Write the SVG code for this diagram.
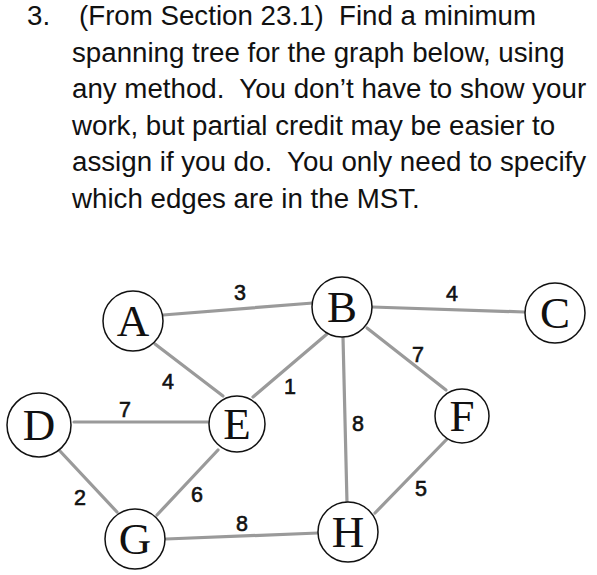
<svg xmlns="http://www.w3.org/2000/svg" width="597" height="575" viewBox="0 0 597 575">
<style>
.q{font-family:"Liberation Sans",Arial,sans-serif;font-size:27.7px;fill:#111;white-space:pre}
.e{stroke:#9a9a9a;stroke-width:3.2;fill:none;stroke-linecap:round}
.n circle{fill:#fff;stroke:#111;stroke-width:1.5}
.n text{font-family:"Liberation Serif","Times New Roman",serif;font-size:45px;fill:#111;text-anchor:middle}
.w{font-family:"Liberation Sans",Arial,sans-serif;font-size:21.5px;fill:#111;stroke:#111;stroke-width:0.6;text-anchor:middle}
</style>
<rect width="597" height="575" fill="#fff"/>
<g id="question">
<text class="q" x="27" y="25">3.</text>
<text class="q" x="79" y="25" xml:space="preserve">(From Section 23.1)  Find a minimum</text>
<text class="q" x="72" y="61.5">spanning tree for the graph below, using</text>
<text class="q" x="72" y="98" xml:space="preserve">any method.  You don’t have to show your</text>
<text class="q" x="72" y="134.5">work, but partial credit may be easier to</text>
<text class="q" x="72" y="171" xml:space="preserve">assign if you do.  You only need to specify</text>
<text class="q" x="72" y="207.5">which edges are in the MST.</text>
</g>
<g id="edges">
<line class="e" x1="163" y1="315" x2="313" y2="303"/>
<line class="e" x1="372" y1="307" x2="524" y2="312"/>
<line class="e" x1="155" y1="344" x2="223" y2="396"/>
<line class="e" x1="327" y1="334" x2="253" y2="397"/>
<line class="e" x1="74" y1="422" x2="209" y2="422"/>
<line class="e" x1="59" y1="450" x2="117" y2="512"/>
<line class="e" x1="218" y1="450" x2="157" y2="515"/>
<line class="e" x1="166" y1="539" x2="318" y2="533"/>
<line class="e" x1="343" y1="337" x2="347" y2="503"/>
<line class="e" x1="367" y1="328" x2="446" y2="390"/>
<line class="e" x1="447" y1="439" x2="375" y2="513"/>
<text class="w" x="240" y="300">3</text>
<text class="w" x="452" y="301">4</text>
<text class="w" x="168" y="389">4</text>
<text class="w" x="290" y="394">1</text>
<text class="w" x="125" y="417">7</text>
<text class="w" x="358" y="431">8</text>
<text class="w" x="418" y="362">7</text>
<text class="w" x="421" y="496">5</text>
<text class="w" x="80" y="505">2</text>
<text class="w" x="197" y="502">6</text>
<text class="w" x="242" y="531">8</text>
</g>
<g id="node-A" class="n"><circle cx="133" cy="321" r="30"/><text x="133" y="336">A</text></g>
<g id="node-B" class="n"><circle cx="342" cy="307" r="30"/><text x="342" y="322">B</text></g>
<g id="node-C" class="n"><circle cx="555" cy="313" r="30"/><text x="555" y="328">C</text></g>
<g id="node-D" class="n"><circle cx="39" cy="425" r="32"/><text x="39" y="440">D</text></g>
<g id="node-E" class="n"><circle cx="237" cy="424" r="28"/><text x="237" y="439">E</text></g>
<g id="node-F" class="n"><circle cx="462" cy="416" r="27"/><text x="462" y="431">F</text></g>
<g id="node-G" class="n"><circle cx="135" cy="539" r="30"/><text x="135" y="554">G</text></g>
<g id="node-H" class="n"><circle cx="348" cy="532" r="30"/><text x="348" y="547">H</text></g>
</svg>
